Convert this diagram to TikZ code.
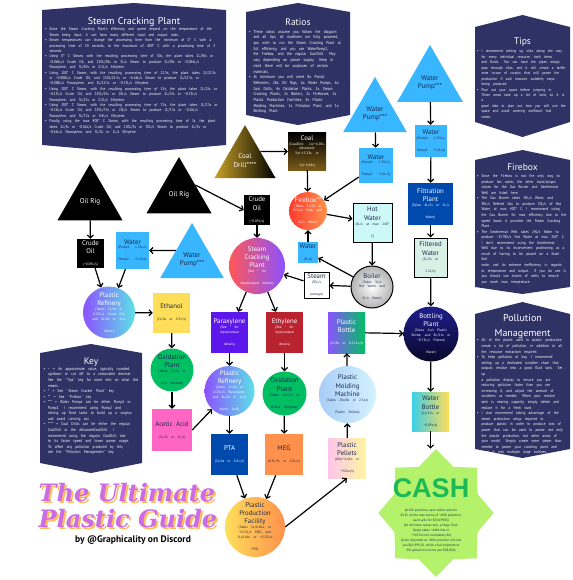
\documentclass[tikz,border=0pt]{standalone}
\usepackage{fontspec}
\usepackage{graphicx}
\setmainfont{PT Sans}
\newfontfamily\bodyfont[FakeStretch=0.85]{PT Sans}
\newfontfamily\titlefont{DejaVu Serif}
\newfontfamily\cashfont{Liberation Sans}
\usetikzlibrary{shapes.geometric,arrows.meta}

\definecolor{navy}{HTML}{2E3264}
\definecolor{ink}{HTML}{1B2A4E}
\definecolor{wblue}{HTML}{38B6FF}
\definecolor{purp}{HTML}{8C52FF}
\definecolor{cyanl}{HTML}{5CE1E6}
\definecolor{yel}{HTML}{FFDE59}
\definecolor{grn}{HTML}{00BF63}
\definecolor{pinkc}{HTML}{FF66C4}
\definecolor{dblue}{HTML}{004AAD}
\definecolor{orng}{HTML}{FF914D}
\definecolor{parac}{HTML}{5E17EB}
\definecolor{ethyc}{HTML}{B8232F}
\definecolor{redl}{HTML}{FF5757}
\definecolor{firer}{HTML}{FF3B30}
\definecolor{goldc}{HTML}{C9A227}
\definecolor{coalb}{HTML}{7A5A18}
\definecolor{hotw}{HTML}{CDF8F8}
\definecolor{filtc}{HTML}{D8F0E6}
\definecolor{cashg}{HTML}{B5F26B}
\definecolor{casht}{HTML}{1DB954}
\definecolor{titlep}{HTML}{CB6CE6}
\definecolor{titleo}{HTML}{FFBD59}
\definecolor{pellp}{HTML}{FFC4EC}
\definecolor{pelly}{HTML}{FFF6A0}
\definecolor{pmml}{HTML}{A9CDF7}
\definecolor{pmmr}{HTML}{D4F2FF}
\definecolor{bottn}{HTML}{1E1E8C}
\definecolor{bottd}{HTML}{08082A}
\definecolor{wbc}{HTML}{3CCFE8}

\newcommand\apx{\textasciitilde}
\newcommand\nl{\newline}
\newcommand\mainf{\fontsize{6.8}{8.3}\selectfont}
\newcommand\subf{\fontsize{3.5}{4.9}\selectfont}
\newcommand\nd[2]{\mainf #1\par\subf #2}
\newcommand\bitem[1]{\par\hangindent=4.5pt\hangafter=1\noindent\hbox to 4.5pt{\textbullet\hss}#1\par}
\newcommand\titlef{\titlefont\bfseries\itshape\fontsize{24}{24}\selectfont}

\begin{document}
\begin{tikzpicture}[x=1pt,y=-1pt,
  tri/.style={regular polygon,regular polygon sides=3,inner sep=0pt,minimum size=#1},
  circ/.style={circle,inner sep=0pt,minimum size=#1},
  sq/.style 2 args={rectangle,inner xsep=0pt,inner ysep=0pt,text width=#1,minimum height=#2,align=center},
  lab/.style={align=center,text width=#1,inner sep=0pt},
  tlab/.style={align=center,inner sep=0pt,font=\fontsize{7}{8.5}\selectfont},
  wt/.style={text=white}, dk/.style={text=ink},
  bordered/.style={draw=black,line width=1pt},
  arr/.style={line width=1.2pt,-{Straight Barb[length=3pt,width=6pt]}},
  tbox/.style={text width=#1,align=left,inner sep=0pt,text=white},
  panel/.style={fill=navy}
]
\useasboundingbox (0,0) rectangle (572,580);
\fill[white] (0,0) rectangle (572,580);

% ---------- text panels ----------
\fill[panel] (42,10) -- (134,3) -- (226,10) -- (226,145) -- (134,153) -- (42,145) -- cycle;
\fill[panel] (246,12) -- (298,3) -- (350,12) -- (350,115) -- (298,125) -- (246,115) -- cycle;
\fill[panel] (475,27) -- (522.5,15) -- (570,27) -- (570,122) -- (522.5,137) -- (475,122) -- cycle;
\fill[panel] (475,160) -- (522.5,150) -- (570,160) -- (570,287) -- (522.5,294) -- (475,287) -- cycle;
\fill[panel] (475,314) -- (522.5,302) -- (570,314) -- (570,449) -- (522.5,458) -- (475,449) -- cycle;
\fill[panel] (40,353) -- (91,344) -- (142,353) -- (142,463) -- (91,473) -- (40,463) -- cycle;

\node[tbox=178pt,anchor=north] (scptext) at (134,17) {%
{\centering\fontsize{10}{11}\selectfont Steam Cracking Plant\par}\vspace{1.2pt}%
\raggedright\bodyfont\fontsize{4.1}{5.4}\selectfont
\bitem{Since the Steam Cracking Plant's efficiency and speed depend on the temperature of the\nl Steam being input, it can have many different input and output rates.}
\bitem{Steam temperatures can change the processing time from the minimum of 0° C with a\nl processing time of 30 seconds, to the maximum of 400° C with a processing time of 3\nl seconds.}
\bitem{Using 0° C Steam, with the resulting processing time of 30s, the plant takes 2L/30s or\nl \apx0.066L/s Crude Oil, and 150L/30s or 5L/s Steam to produce 2L/30s or \apx0.066L/s\nl Paraxylene, and 3L/30s or 0.1L/s Ethylene.}
\bitem{Using 100° C Steam, with the resulting processing time of 22.5s, the plant takes 2L/22.5s\nl or \apx0.088L/s Crude Oil, and 150L/22.5s or \apx6.66L/s Steam to produce 2L/22.5s or\nl \apx0.088L/s Paraxylene, and 3L/22.5s or \apx0.13L/s Ethylene.}
\bitem{Using 200° C Steam, with the resulting processing time of 15s, the plant takes 2L/15s or\nl \apx0.13L/s Crude Oil, and 150L/15s or 10L/s Steam to produce 2L/15s or \apx0.13L/s\nl Paraxylene, and 3L/15s or 0.2L/s Ethylene.}
\bitem{Using 300° C Steam, with the resulting processing time of 7.5s, the plant takes 2L/7.5s or\nl \apx0.26L/s Crude Oil, and 150L/7.5s or 20L/s Steam to produce 2L/7.5s or \apx0.26L/s\nl Paraxylene, and 3L/7.5s or 0.4L/s Ethylene.}
\bitem{Finally, using the max 400° C Steam, with the resulting processing time of 3s, the plant\nl takes 2L/3s or \apx0.66L/s Crude Oil, and 150L/3s or 50L/s Steam to produce 2L/3s or\nl \apx0.66L/s Paraxylene, and 3L/3s or 1L/s Ethylene.}
};

\node[tbox=98pt,anchor=north] (ratiotext) at (298,19) {%
{\centering\fontsize{9.5}{11}\selectfont Ratios\par}\vspace{1.5pt}%
\raggedright\bodyfont\fontsize{4.3}{5.7}\selectfont
\bitem{These ratios assume you follow the diagram\nl and all tips, all machines are fully powered,\nl you wish to run the Steam Cracking Plant at\nl full efficiency, and you use WaterPump2,\nl the Firebox, and the regular CoalDrill. May\nl vary depending on power supply. Keep in\nl mind there will be surpluses of certain\nl materials.}
\bitem{At minimum you will need 8x Plastic\nl Refineries, 28x Oil Rigs, 6x Water Pumps, 6x\nl Coal Drills, 4x Oxidation Plants, 2x Steam\nl Cracking Plants, 2x Boilers, 2x Fireboxes, 2x\nl Plastic Production Facilities, 4x Plastic\nl Molding Machines, 1x Filtration Plant, and 1x\nl Bottling Plant.}
};

\node[tbox=91pt,anchor=north] (tipstext) at (522.5,38) {%
{\centering\fontsize{9.5}{11}\selectfont Tips\par}\vspace{2.5pt}%
\raggedright\bodyfont\fontsize{4}{5.45}\selectfont
\bitem{I recommend setting up silos along the way\nl for every individual resource, both items\nl and fluids. You can have the pipes simply\nl pass through silos, and it will create a buffer\nl zone incase of surplus that will power the\nl production if said resource suddenly stops\nl being produced.}
\bitem{Plan out your space before jumping in.\nl These areas take up a lot of land, so it is a\nl good idea to plan out how you will use the\nl space and avoid covering oneflossil fuel\nl nodes.}
};

\node[tbox=91pt,anchor=north] (fireboxtext) at (522.5,164) {%
{\centering\fontsize{9.5}{11}\selectfont Firebox\par}\vspace{1.2pt}%
\raggedright\bodyfont\fontsize{4.1}{5.55}\selectfont
\bitem{Since the Firebox is not the only way to\nl produce hot water, the other input/output\nl values for the Gas Burner and Geothermal\nl Well are listed here.}
\bitem{The Gas Burner takes 30L/s Water, and\nl 90L/s Refined Gas to produce 30L/s of Hot\nl Water, at max 400° C. I recommend using\nl the Gas Burner for max efficiency due to the\nl speed boost it provides the Steam Cracking\nl Plant.}
\bitem{The Geothermal Well takes 24L/s Water to\nl produce \apx15.98L/s Hot Water at max 260° C.\nl I don't recommend using the Geothermal\nl Well due to its inconvenient positioning as a\nl result of having to be placed on a fossil fuel\nl node, and its extreme inefficiency in regards\nl to temperature and output. If you do use it,\nl you should use chains of wells to ensure\nl you reach max temperature.}
};

\node[tbox=91pt,anchor=north] (pollutiontext) at (522.5,314) {%
{\centering\fontsize{10}{15}\selectfont Pollution\\Management\par}\vspace{0pt}%
\raggedright\bodyfont\fontsize{4.1}{5.6}\selectfont
\bitem{All of the plants used in plastic production\nl create a lot of pollution, in addition to all\nl the resource extraction required.}
\bitem{To keep pollution at bay, I recommend\nl setting up a dedicated scrubber chain that\nl outputs residue into a good fluid tank. Set up\nl a pollution display to ensure you are\nl reducing pollution faster than you are\nl increasing it, and adjust the amount of\nl scrubbers as needed. When your residue\nl tank is nearing capacity, simply delete and\nl replace it for a fresh start.}
\bitem{I also recommend taking advantage of the\nl steam production setup required to\nl produce plastic in order to produce lots of\nl power that can be used to power not only\nl the plastic production, but other areas of\nl your world. Simply create more steam than\nl needed to power your cracking plant and\nl input it into multiple large turbines.}
};

\node[tbox=95pt,anchor=north] (keytext) at (91,358) {%
{\centering\fontsize{9.5}{11}\selectfont Key\par}\vspace{0pt}%
\raggedright\bodyfont\fontsize{4.2}{5.55}\selectfont
\bitem{\apx{} = An approximate value, typically rounded\nl up/down or cut off to a reasonable decimal.\nl See the ``Tips'' key for more info on what this\nl means.}
\bitem{* = See ``Steam Cracker Plant'' key}
\bitem{** = See ``Firebox'' key}
\bitem{*** = Water Pumps can be either Pump1 or\nl Pump2. I recommend using Pump2 and\nl setting up fluid tanks to build up a surplus\nl and avoid running out.}
\bitem{**** = Coal Drills can be either the regular\nl CoalDrill or the AdvancedCoalDrill. I\nl recommend using the regular CoalDrill due\nl to its faster speed and lower power usage.\nl To offset any pollution produced by this,\nl see the ``Pollution Management'' key.}
};

% ---------- triangles ----------
\node[tri=75pt,fill=black,label={[tlab,text=white]center:Oil Rig}] (oilrigA) at (90,201.5) {};
\node[tri=75pt,fill=black,label={[tlab,text=white]center:Oil Rig}] (oilrigB) at (179,194.5) {};
\node[tri=73.5pt,fill=wblue,label={[tlab,text=ink]center:{Water\\Pump***}}] (pumpL) at (192,259.7) {};
\node[tri=70.7pt,left color=goldc,right color=black,label={[tlab,text=white]center:{Coal\\Drill****}}] (coaldrill) at (245,160.5) {};
\node[tri=73.5pt,fill=wblue,label={[tlab,text=ink]center:{Water\\Pump***}}] (pumpC) at (375,113.7) {};
\node[tri=76pt,fill=wblue,label={[tlab,text=ink]center:{Water\\Pump***}}] (pumpR) at (430,83) {};

% ---------- boxes ----------
\node[sq={27pt}{29pt},fill=black,wt] (crudeA) at (90.5,253.5) {\nd{Crude\\Oil}{(\apx0.09L/s)}};
\node[sq={33pt}{37pt},fill=wblue,dk] (waterA) at (132.5,250.5) {\nd{Water}{(Pump1: 1.35L/s,\\Pump2: \apx5.5L/s)}};
\node[sq={37pt}{40pt},fill=yel,dk] (ethanol) at (171.5,313) {\nd{Ethanol}{(2L/4s or 0.5L/s)}};
\node[sq={40pt}{42pt},fill=pinkc,dk] (acetic) at (172,430) {\nd{Acetic Acid}{(3L/3s or 1L/s)}};
\node[sq={38pt}{37pt},top color=black,bottom color=coalb,wt] (coal) at (307,151.5) {\nd{Coal}{(CoalDrill: 1x/\apx4.10s,\\Advanced:\\3x/\apx13.33s, or\\1x/\apx4.44s)}};
\node[sq={26pt}{30pt},fill=black,wt] (crudeB) at (257,210) {\nd{Crude\\Oil}{(\apx0.09L/s)}};
\node[sq={34pt}{35pt},fill=wblue,dk] (waterB) at (376,165.5) {\nd{Water}{(Pump1: 1.35L/s,\\Pump2: \apx5.5L/s)}};
\node[sq={39pt}{39pt},fill=hotw,bordered,dk] (hotwater) at (372.5,222.5) {\nd{Hot\\Water}{(6L/s at max 240°\\C)}};
\node[sq={20pt}{21pt},fill=wblue,dk] (watersmall) at (308,252.5) {\nd{Water}{(3L/s)}};
\node[sq={25pt}{26pt},fill=white,bordered,dk] (steam) at (316.5,285) {\nd{Steam}{(30L/s\\average)}};
\node[sq={37pt}{41pt},fill=parac,wt] (paraxylene) at (229.5,332.5) {\nd{Paraxylene}{(See * for\\input/output\\details)}};
\node[sq={37pt}{41pt},fill=ethyc,wt] (ethylene) at (284.5,332.5) {\nd{Ethylene}{(See * for\\input/output\\details)}};
\node[sq={37pt}{41pt},left color=purp,right color=grn,wt] (pbottle) at (346.5,332.5) {\nd{Plastic\\Bottle}{(1x/8s or 0.125x/s)}};
\node[sq={37pt}{41pt},fill=dblue,wt] (pta) at (229.5,454.5) {\nd{PTA}{(2L/4s or 0.5L/s)}};
\node[sq={38pt}{41pt},fill=orng,dk] (meg) at (284,454.5) {\nd{MEG}{(0.9L/3s or 0.3L/s)}};
\node[sq={38pt}{40pt},left color=pellp,right color=pelly,dk] (pellets) at (347,458) {\nd{Plastic\\Pellets}{(60x/\apx6.66s or\\\apx9.01x/s)}};
\node[sq={32pt}{32pt},fill=wblue,dk] (waterC) at (431,141) {\nd{Water}{(Pump1: 1.35L/s,\\Pump2: \apx5.5L/s)}};
\node[sq={45pt}{42pt},fill=dblue,wt] (filtration) at (430.5,204) {\nd{Filtration\\Plant}{(Takes 4L/2s or 2L/s\\Water)}};
\node[sq={33pt}{39pt},fill=filtc,bordered,dk] (filtered) at (430.5,257.5) {\nd{Filtered\\Water}{(3L/2s or\\1.5L/s)}};
\node[sq={37pt}{39pt},left color=wbc,right color=yel,dk] (wbottle) at (430.5,411.5) {\nd{Water\\Bottle}{(1x/11s or\\\apx0.09x/s)}};

% ---------- circles ----------
\node[circ=52pt,left color=purp,right color=cyanl,label={[lab=44pt,text=white]center:{\nd{Plastic\\Refinery}{(Takes 1L/4s or\\0.25L/s Crude Oil,\\and 4L/4s or 1L/s\\Water)}}}] (refineryA) at (109,312.5) {};
\node[circ=56pt,left color=redl,right color=purp,label={[lab=48pt,text=white]center:{\nd{Steam\\Cracking\\Plant}{(See * for\\input/output details)}}}] (scp) at (257,266) {};
\node[circ=38pt,left color=firer,right color=orng,label={[lab=36pt,text=white]center:{\nd{Firebox**}{(Takes 1x/2s or\\0.5x/s Coal, and\\6L/s Water)}}}] (firebox) at (308,211) {};
\node[circ=42pt,inner color=white,outer color=gray!60,bordered,label={[lab=38pt,text=ink]center:{\nd{Boiler}{(Takes 3L/s\\Hot Water and\\3L/s Water)}}}] (boiler) at (372,287) {};
\node[circ=43pt,fill=grn,label={[lab=40pt,text=ink]center:{\nd{Oxidation\\Plant}{(Takes 3L/3s or\\1L/s Ethanol)}}}] (oxidA) at (172,370) {};
\node[circ=50pt,left color=purp,right color=cyanl,label={[lab=46pt,text=white]center:{\nd{Plastic\\Refinery}{(Takes 1L/4s or\\0.25L/s Paraxylene,\\and 4L/4s or 1L/s\\Acetic Acid)}}}] (refineryB) at (229.5,391) {};
\node[circ=44pt,fill=grn,label={[lab=42pt,text=ink]center:{\nd{Oxidation\\Plant}{(Takes 1.2L/3s or\\0.4L/s Ethylene)}}}] (oxidB) at (284.5,393.5) {};
\node[circ=57pt,left color=pmml,right color=pmmr,label={[lab=52pt,text=ink]center:{\nd{Plastic\\Molding\\Machine}{(Takes 20x/8s or 2.5x/s\\Plastic Pellets)}}}] (pmm) at (347.5,394.5) {};
\node[circ=60pt,left color=yel,right color=orng,label={[lab=52pt,text=ink]center:{\nd{Plastic\\Production\\Facility}{(Takes 1L/6.66s, or\\\apx0.15L/s MEG, and\\1L/6.66s or \apx0.15L/s\\PTA)}}}] (ppf) at (255,527) {};
\node[circ=55pt,top color=bottn,bottom color=bottd,label={[lab=50pt,text=white]center:{\nd{Bottling\\Plant}{(Takes 1x/s Plastic\\Bottle, and 8L/11s or\\\apx0.73L/s Filtered\\Water)}}}] (bottling) at (431,334) {};

% ---------- CASH ----------
\begin{scope}[shift={(436,513)},xscale=0.9]
\node[star,star points=8,star point ratio=1.28,minimum size=128pt,inner sep=0pt,fill=cashg,transform shape] (cash) at (0,0) {};
\end{scope}
\node[font=\cashfont\bfseries\fontsize{27}{27}\selectfont,text=casht,inner sep=0pt] (cashtitle) at (431,488) {CASH};
\node[font=\fontsize{3.3}{5}\selectfont,align=center,text=ink,inner sep=0pt] (cashtext) at (431,531) {(At 0\% pollution, each bottle sells for\\\$145. At the max bonus of \apx40\% pollution,\\each sells for \$154.9905)\\(At minimum setup ratio, a Huge Truck\\Depot takes \apx4444.44s or\\\apx74.07min to completely fill)\\(A full shipment at \apx40\% pollution will net\\you \$61,996.20, while a full shipment at\\0\% pollution will net you \$58,000)};

% ---------- title ----------
\node[anchor=west,font=\titlef,text=titleo,inner sep=0pt] (titleAsh) at (40.5,494.5) {The Ultimate};
\node[anchor=west,font=\titlef,text=titlep,inner sep=0pt] (titleA) at (38.5,492.5) {The Ultimate};
\node[anchor=west,font=\titlef,text=titleo,inner sep=0pt] (titleBsh) at (40.5,520.5) {Plastic Guide};
\node[anchor=west,font=\titlef,text=titlep,inner sep=0pt] (titleB) at (38.5,518.5) {Plastic Guide};
\node[font=\bfseries\fontsize{9.5}{10}\selectfont,inner sep=0pt] (byline) at (133,540) {by @Graphicality on Discord};

% ---------- arrows ----------
\draw[arr] (oilrigA) -- (crudeA);
\draw[arr] (pumpL.side 1) -- (waterA.east);
\draw[arr] (crudeA) -- (refineryA);
\draw[arr] (waterA) -- (refineryA);
\draw[arr] (refineryA) -- (ethanol);
\draw[arr] (ethanol) -- (oxidA);
\draw[arr] (oxidA) -- (acetic);
\draw[arr] (acetic.east) -- (refineryB);
\draw[arr] (oilrigB.side 3) -- (crudeB.west);
\draw[arr] (coaldrill.side 3) -- (coal.west);
\draw[arr] (coal) -- (firebox);
\draw[arr] (pumpC) -- (waterB);
\draw[arr] (waterB) -- (firebox);
\draw[arr] (firebox) -- (hotwater);
\draw[arr] (hotwater) -- (boiler);
\draw[arr] (boiler) -- (watersmall);
\draw[arr] (boiler) -- (steam);
\draw[arr] (watersmall) -- (firebox);
\draw[arr] (steam) -- (scp);
\draw[arr] (crudeB) -- (scp);
\draw[arr] (scp) -- (paraxylene);
\draw[arr] (scp) -- (ethylene);
\draw[arr] (paraxylene) -- (refineryB);
\draw[arr] (ethylene) -- (oxidB);
\draw[arr] (refineryB) -- (pta);
\draw[arr] (oxidB) -- (meg);
\draw[arr] (pta) -- (ppf);
\draw[arr] (meg) -- (ppf);
\draw[arr] (ppf.east) -- (pellets.south);
\draw[arr] (pellets) -- (pmm);
\draw[arr] (pmm) -- (pbottle);
\draw[arr] (pbottle) -- (bottling);
\draw[arr] (pumpR) -- (waterC);
\draw[arr] (waterC) -- (filtration);
\draw[arr] (filtration) -- (filtered);
\draw[arr] (filtered) -- (bottling);
\draw[arr] (bottling) -- (wbottle);
\draw[arr] (wbottle) -- (wbottle |- cash.north);
\end{tikzpicture}
\end{document}
